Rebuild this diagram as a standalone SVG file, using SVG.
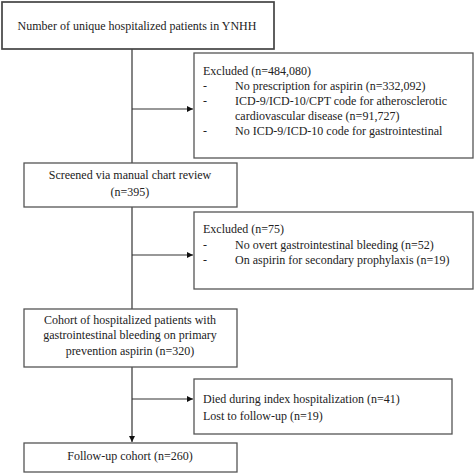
<svg xmlns="http://www.w3.org/2000/svg" width="474" height="474" viewBox="0 0 474 474">
<style>
.box{fill:#fff;stroke:#555;stroke-width:1.3}
.ln{fill:none;stroke:#333;stroke-width:1.2}
text{font-family:"Liberation Serif","Times New Roman",serif;font-size:12px;fill:#222}
.c{text-anchor:middle}
</style>
<defs>
<marker id="ah" viewBox="0 0 10 10" refX="10" refY="5" markerWidth="6" markerHeight="6" orient="auto" markerUnits="userSpaceOnUse">
<path d="M0,0 L10,5 L0,10 Z" fill="#111"/>
</marker>
</defs>
<rect width="474" height="474" fill="#fff"/>
<g id="connectors">
<line class="ln" x1="132" y1="49" x2="132" y2="163"/>
<line class="ln" x1="132" y1="109" x2="193" y2="109" marker-end="url(#ah)"/>
<line class="ln" x1="132" y1="207" x2="132" y2="309"/>
<line class="ln" x1="132" y1="255" x2="193" y2="255" marker-end="url(#ah)"/>
<line class="ln" x1="132" y1="367" x2="132" y2="442" marker-end="url(#ah)"/>
<line class="ln" x1="132" y1="399" x2="193" y2="399" marker-end="url(#ah)"/>
</g>
<g id="n1">
<rect class="box" x="2" y="2" width="272" height="47" style="stroke:#444;stroke-width:1.7"/>
<text class="c" x="137" y="30">Number of unique hospitalized patients in YNHH</text>
</g>
<g id="e1">
<rect class="box" x="194" y="53" width="279" height="105"/>
<text x="203" y="75">Excluded (n=484,080)</text>
<text x="203" y="90">-</text><text x="235" y="90">No prescription for aspirin (n=332,092)</text>
<text x="203" y="105">-</text><text x="235" y="105">ICD-9/ICD-10/CPT code for atherosclerotic</text>
<text x="235" y="120">cardiovascular disease (n=91,727)</text>
<text x="203" y="135">-</text><text x="235" y="135">No ICD-9/ICD-10 code for gastrointestinal</text>
</g>
<g id="n2">
<rect class="box" x="24" y="163" width="213" height="44"/>
<text class="c" x="130" y="179">Screened via manual chart review</text>
<text class="c" x="130" y="196">(n=395)</text>
</g>
<g id="e2">
<rect class="box" x="194" y="212" width="279" height="77"/>
<text x="203" y="233">Excluded (n=75)</text>
<text x="203" y="249">-</text><text x="235" y="249">No overt gastrointestinal bleeding (n=52)</text>
<text x="203" y="264">-</text><text x="235" y="264">On aspirin for secondary prophylaxis (n=19)</text>
</g>
<g id="n3">
<rect class="box" x="24" y="309" width="213" height="58"/>
<text class="c" x="130" y="324">Cohort of hospitalized patients with</text>
<text class="c" x="130" y="339">gastrointestinal bleeding on primary</text>
<text class="c" x="130" y="355">prevention aspirin (n=320)</text>
</g>
<g id="e3">
<rect class="box" x="194" y="379" width="258" height="55"/>
<text x="203" y="403">Died during index hospitalization (n=41)</text>
<text x="203" y="420">Lost to follow-up (n=19)</text>
</g>
<g id="n4">
<rect class="box" x="24" y="443" width="213" height="29"/>
<text class="c" x="130" y="460">Follow-up cohort (n=260)</text>
</g>
</svg>
